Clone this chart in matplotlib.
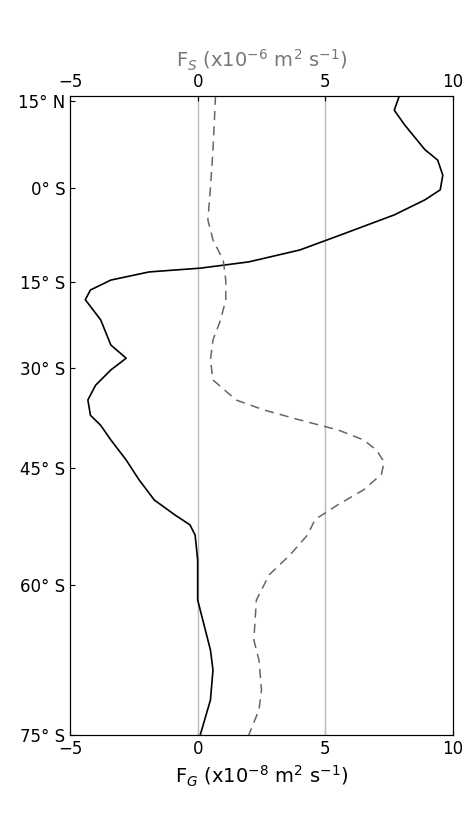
import numpy as np
import matplotlib
matplotlib.use("Agg")
import matplotlib.pyplot as plt

# latitude (deg, negative = south) and fluxes
lat_g = [15.9,13.4,10.9,6.6,4.8,2.2,-0.3,-1.9,-4.3,-7.5,-9.9,-11.8,-12.8,-13.4,-14.7,-16.4,-18.1,-21.6,-26.0,-28.3,-30.3,-32.6,-34.8,-37.1,-38.6,-40.8,-43.8,-46.5,-49.1,-51.0,-52.3,-53.6,-56.8,-61.5,-64.5,-66.5,-68.5,-71.5,-75]
f_g = [7.9,7.7,8.1,8.9,9.4,9.6,9.5,8.9,7.7,5.6,4.0,2.0,0.1,-1.9,-3.4,-4.2,-4.4,-3.8,-3.4,-2.8,-3.4,-4.0,-4.3,-4.2,-3.8,-3.4,-2.8,-2.3,-1.7,-0.9,-0.3,-0.1,0.0,0.0,0.3,0.5,0.6,0.5,0.1]
lat_s = [15.9,6.6,0,-5.1,-8.3,-11.5,-14.7,-18.1,-21.6,-25.1,-28.6,-31.8,-34.8,-36.3,-37.8,-39.3,-40.8,-42.3,-44.1,-45.8,-47.8,-49.7,-51.6,-53.6,-56.2,-58.7,-61.5,-65.5,-67.5,-70.5,-72.5,-75]
f_s = [0.7,0.6,0.5,0.4,0.6,1.0,1.1,1.1,0.9,0.6,0.5,0.6,1.5,2.6,4.0,5.5,6.5,7.0,7.3,7.2,6.5,5.5,4.6,4.3,3.6,2.8,2.3,2.2,2.4,2.5,2.4,2.0]
ytick_lat = [15,0,-15,-30,-45,-60,-75]
ytick_labels = ['15° N','0° S','15° S','30° S','45° S','60° S','75° S']
# nonlinear latitude axis spacing (relative positions)
ytick_pos = [-101,-188,-282,-368,-468,-585,-735]

lat_k = np.array([-90] + ytick_lat[::-1] + [30], float)
pos_k = np.array([-735-150] + ytick_pos[::-1] + [-101+87], float)
def fwd(v):
    return np.interp(v, lat_k, pos_k)
def inv(p):
    return np.interp(p, pos_k, lat_k)

fig = plt.figure(figsize=(4.74,8.32), dpi=100)
ax = fig.add_axes([70/474, 1-735/832, 383/474, 639/832])
ax.set_yscale('function', functions=(fwd, inv))
ax.axvline(0, color='#bbbbbb', lw=1)
ax.axvline(5, color='#bbbbbb', lw=1)
ax.plot(f_g, lat_g, color='black', lw=1.2)
ax.set_xlim(-5,10)
ax.set_ylim(-75, 15.85)
ax.set_yticks(ytick_lat)
ax.set_yticklabels(ytick_labels)
ax.minorticks_off()
ax.set_xticks([-5,0,5,10])
ax.tick_params(labelsize=12, direction='in')
ax.set_xlabel('F$_G$ (x10$^{-8}$ m$^2$ s$^{-1}$)', fontsize=14)
ax2 = ax.twiny()
ax2.plot(f_s, lat_s, color='#666666', lw=1.1, ls=(0,(6,4)))
ax2.set_xlim(-5,10)
ax2.set_xticks([-5,0,5,10])
ax2.tick_params(labelsize=12, direction='in')
ax2.set_xlabel('F$_S$ (x10$^{-6}$ m$^2$ s$^{-1}$)', fontsize=14, color='#777777')
fig.savefig('out.png', dpi=100)
